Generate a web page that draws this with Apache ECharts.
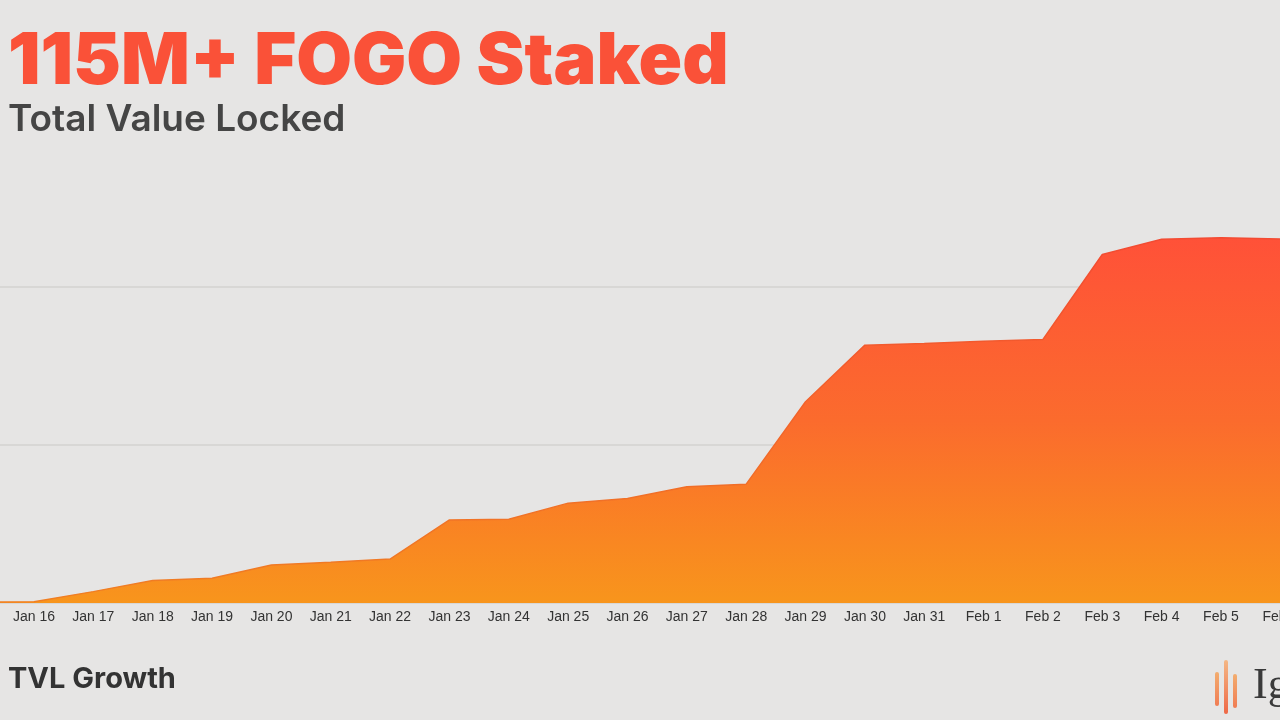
<!DOCTYPE html>
<html>
<head>
<meta charset="utf-8">
<script src="https://cdn.jsdelivr.net/npm/echarts@6/dist/echarts.min.js"></script>
<style>
  html, body { margin: 0; padding: 0; background: #e6e5e4; }
  #chart { width: 1280px; height: 720px; }
</style>
</head>
<body>
<div id="chart"></div>
<script>
// Data (TVL in millions of FOGO)
const categories = ['Jan 15','Jan 16','Jan 17','Jan 18','Jan 19','Jan 20','Jan 21','Jan 22','Jan 23','Jan 24','Jan 25','Jan 26','Jan 27','Jan 28','Jan 29','Jan 30','Jan 31','Feb 1','Feb 2','Feb 3','Feb 4','Feb 5','Feb 6'];
const tvlValues = [0.25, 0.4, 3.6, 7.1, 7.8, 12.0, 12.9, 13.9, 26.3, 26.5, 31.6, 33.1, 36.8, 37.6, 63.7, 81.6, 82.1, 82.8, 83.4, 110.3, 115.1, 115.6, 115.2];
const yTicks = [0, 50, 100, 150];

const titleText = '115M+ FOGO Staked';
const subtitleText = 'Total Value Locked';
const footerText = 'TVL Growth';
const logoText = 'Ig';

const chart = echarts.init(document.getElementById('chart'));
const option = {
  backgroundColor: '#e6e5e4',
  animation: false,
  title: [
    { text: titleText, left: 3, top: 21,
      textStyle: { fontFamily: 'Inter', fontWeight: 900, fontSize: 72, color: '#fa5138' } },
    { text: subtitleText, left: 3, top: 96,
      textStyle: { fontFamily: 'Inter', fontWeight: 600, fontSize: 37, color: '#454545' } },
    { text: footerText, left: 3, top: 660,
      textStyle: { fontFamily: 'Inter', fontWeight: 700, fontSize: 29, color: '#333333' } }
  ],
  grid: { left: -25.35, right: -0.35, top: 129, bottom: 117, containLabel: false, outerBoundsMode: 'none' },
  xAxis: {
    type: 'category',
    data: categories,
    boundaryGap: false,
    axisLine: { show: false },
    axisTick: { show: false },
    axisLabel: { interval: 0, hideOverlap: false, fontFamily: 'Liberation Sans', fontSize: 14, color: '#333333', margin: 7 }
  },
  yAxis: {
    type: 'value',
    min: yTicks[0],
    max: yTicks[yTicks.length - 1],
    interval: yTicks[1] - yTicks[0],
    axisLabel: { show: false },
    axisLine: { show: false },
    axisTick: { show: false },
    splitLine: { show: true, showMaxLine: false, lineStyle: { color: '#d3d2d1', width: 1.5 } }
  },
  series: [{
    type: 'line',
    data: tvlValues,
    symbol: 'none',
    smooth: false,
    lineStyle: { width: 1.5, color: new echarts.graphic.LinearGradient(0, 0, 0, 1, [
      { offset: 0, color: '#f34a32' }, { offset: 1, color: '#f07f22' }]) },
    areaStyle: {
      opacity: 1,
      color: new echarts.graphic.LinearGradient(0, 0, 0, 1, [
        { offset: 0, color: '#ff5138' },
        { offset: 0.5, color: '#fb6b2d' },
        { offset: 1, color: '#f8951c' }
      ])
    }
  }],
  graphic: [
    { type: 'rect', shape: { x: 1215, y: 672, width: 4, height: 34, r: 2 },
      style: { fill: new echarts.graphic.LinearGradient(0, 0, 0, 1, [{offset:0,color:'#f5a35a'},{offset:1,color:'#f26a3a'}]), opacity: 0.85 } },
    { type: 'rect', shape: { x: 1224, y: 660, width: 4, height: 54, r: 2 },
      style: { fill: new echarts.graphic.LinearGradient(0, 0, 0, 1, [{offset:0,color:'#f6b27a'},{offset:1,color:'#ef5a34'}]), opacity: 0.9 } },
    { type: 'rect', shape: { x: 1233, y: 674, width: 4, height: 34, r: 2 },
      style: { fill: new echarts.graphic.LinearGradient(0, 0, 0, 1, [{offset:0,color:'#f5a35a'},{offset:1,color:'#f26a3a'}]), opacity: 0.85 } },
    { type: 'text', left: 1253, top: 664,
      style: { text: logoText, fontFamily: 'Liberation Serif', fontSize: 44, fill: '#3a3a3a' } }
  ]
};
chart.setOption(option);
</script>
</body>
</html>
